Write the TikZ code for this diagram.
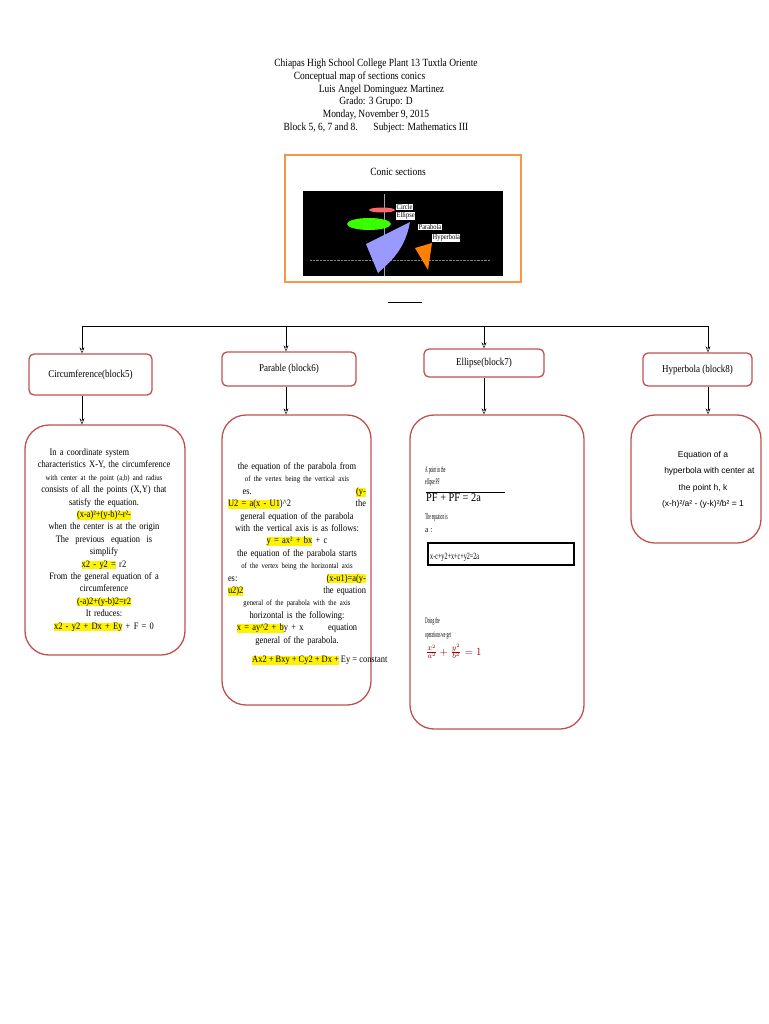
\documentclass[tikz,border=0pt]{standalone}
\usepackage{fontspec}
\setmainfont{Liberation Serif}[FakeStretch=0.86]
\newfontfamily\arialf{Liberation Sans}
\usepackage{tikz}
\usetikzlibrary{arrows.meta}
\newcommand{\hlt}[1]{{\setlength{\fboxsep}{0pt}\colorbox{yellow}{#1}}}
\newcommand{\tinyline}{\fontsize{7.8}{12.4}\selectfont}
\definecolor{boxred}{RGB}{192,80,77}
\definecolor{boxorange}{RGB}{247,150,70}
\begin{document}
\begin{tikzpicture}[x=1pt,y=-1pt,
  head/.style={draw=boxred, line width=1.3pt, rounded corners=5pt},
  body/.style={draw=boxred, line width=1.3pt, rounded corners=24pt},
  txt/.style={align=center, font=\fontsize{9.8}{12.4}\selectfont, inner sep=0pt},
  arr/.style={-{Stealth[open, length=6pt, width=5pt]}}]
\useasboundingbox (0,0) rectangle (768,1024);
% title
\node (title) [txt, font=\fontsize{11}{12.7}\selectfont] at (376,96)
  {Chiapas High School College Plant 13 Tuxtla Oriente\\
   \hspace*{-3em}Conceptual map of sections conics\\
   \hspace*{1em}Luis Angel Dominguez Martinez\\
   Grado: 3 Grupo: D\\
   Monday, November 9, 2015\\
   Block 5, 6, 7 and 8.\quad\ \ Subject: Mathematics III};
% conic sections box
\draw[boxorange, line width=1.5pt] (285,155) rectangle (521,282);
\node (conic) [txt, font=\fontsize{11}{12}\selectfont] at (398,172) {Conic sections};
\fill[black] (303,191) rectangle (503,276);
\draw[gray, densely dotted] (310,260) -- (490,260);
\draw[gray!70, thin] (384,194) -- (384,276);
\fill[red!60] (382,210) ellipse (13 and 2.5);
\fill[green!70!lime] (369,224) ellipse (22 and 6);
\fill[blue!40!white] (366,244) -- (410,222) .. controls (405,250) and (390,262) .. (378,273) -- cycle;
\fill[orange] (415,248) -- (432,243) -- (428,270) -- cycle;
\foreach \lab/\px/\py in {Circle/396/207, Ellipse/396/216, Parabola/418/227, Hyperbola/432/238}
  \node [fill=white, inner sep=0.5pt, font=\fontsize{7.5}{7}\selectfont, anchor=west] at (\px,\py) {\lab};
\draw (388,302) -- (422,302);
% distribution bar
\coordinate (b1) at (82,326);
\coordinate (b2) at (286,326);
\coordinate (b3) at (484,326);
\coordinate (b4) at (708,326);
\draw (b1) -- (b4);
% headings
\node (circ) [head, minimum width=123pt, minimum height=41pt, txt, font=\fontsize{10.5}{10}\selectfont] at (90.5,374.5) {Circumference(block5)};
\node (parab) [head, minimum width=134pt, minimum height=34pt, txt, font=\fontsize{10.5}{10}\selectfont] at (289,369) {Parable (block6)};
\node (ellip) [head, minimum width=120pt, minimum height=28pt, txt, font=\fontsize{10.5}{10}\selectfont] at (484,363) {Ellipse(block7)};
\node (hyper) [head, minimum width=109pt, minimum height=33pt, txt, font=\fontsize{10.5}{10}\selectfont] at (697.5,369.5) {Hyperbola (block8)};
\draw[arr] (b1) -- (circ.north -| b1);
\draw[arr] (b2) -- (parab.north -| b2);
\draw[arr] (b3) -- (ellip.north);
\draw[arr] (b4) -- (hyper.north -| b4);
% bodies
\node (circbody) [body, minimum width=160pt, minimum height=230pt] at (105,540) {};
\node (parabbody) [body, minimum width=149pt, minimum height=290pt] at (296.5,560) {};
\node (ellipbody) [body, minimum width=174pt, minimum height=314pt] at (497,572) {};
\node (hyperbody) [body, minimum width=130pt, minimum height=128pt] at (696,479) {};
\draw[arr] (circ.south -| b1) -- (circbody.north -| b1);
\draw[arr] (parab.south -| b2) -- (parabbody.north -| b2);
\draw[arr] (ellip.south) -- (ellipbody.north -| b3);
\draw[arr] (hyper.south -| b4) -- (hyperbody.north -| b4);
% texts
\node (circtext) [txt, text width=148pt] at (104,540)
  {\hspace*{-3em}In a coordinate system\\
   characteristics X-Y, the circumference\\
   {\tinyline with center at the point (a,b) and radius}\\
   consists of all the points (X,Y) that\\
   satisfy the equation.\\
   \hlt{(x-a)²+(y-b)²-r²-}\\
   when the center is at the origin\\
   The\ \ previous\ \ equation\ \ is\\
   simplify\\
   \hlt{x2 - y2 =} r2\\
   From the general equation of a\\
   circumference\\
   \hlt{(-a)2+(y-b)2=r2}\\
   It reduces:\\
   \hlt{x2 - y2 + Dx + Ey} + F = 0};
\node (parabtext) [txt, text width=138pt] at (297,554)
  {the equation of the parabola from\\
   {\tinyline of the vertex being the vertical axis}\\
   \hspace*{1.5em}es.\hfill\hlt{(y-}\hspace*{1em}\\
   \hlt{U2 = a(x - U1}\rlap{)\^{}2}\hfill the\\
   general equation of the parabola\\
   with the vertical axis is as follows:\\
   \hlt{y = ax² + bx} + c\\
   the equation of the parabola starts\\
   {\tinyline of the vertex being the horizontal axis}\\
   es:\hfill\hlt{(x-u1)=a(y-}\\
   \hlt{u2)2}\hfill the equation\\
   {\tinyline general of the parabola with the axis}\\
   horizontal is the following:\\
   \hlt{x = ay\^{}2 + b}y + x\hspace{2.5em}equation\\
   general of the parabola.};
\node (parabgen) [txt, anchor=north west] at (252,656)
  {\hlt{Ax2 + Bxy + Cy2 + Dx +} Ey = constant};
\node (elliptext1) [txt, anchor=north west, align=left, font=\fontsize{8.5}{12}\selectfont] at (425,466)
  {\scalebox{0.5}[1]{A point in the}\\ \scalebox{0.5}[1]{ellipse PF}};
\node (ellipform) [anchor=north west, inner sep=0pt, font=\fontsize{12}{12}\selectfont] at (426,493) {PF + PF = 2a};
\draw (426,492) -- (505,492);
\node (elliptext2) [txt, anchor=north west, align=left, font=\fontsize{8.5}{13}\selectfont] at (425,513)
  {\scalebox{0.5}[1]{The equation is}\\ a :};
\draw[line width=2.5pt] (428,543) rectangle (574,565);
\node (elliproot) [txt, anchor=west, font=\fontsize{9.5}{9}\selectfont] at (430,557) {\scalebox{0.75}[1]{x-c+y2+x+c+y2=2a}};
\node (elliptext3) [txt, anchor=north west, align=left, font=\fontsize{8.5}{14}\selectfont] at (425,617)
  {\scalebox{0.5}[1]{Doing the}\\ \scalebox{0.5}[1]{operations we get}};
\node (ellipstd) [anchor=north west, inner sep=0pt, text=red!60!black, font=\fontsize{11}{11}\selectfont] at (426,644) {$\frac{x^2}{a^2}+\frac{y^2}{b^2}=1$};
\node (hypertext) [txt, font=\arialf\fontsize{8.5}{16.5}\selectfont] at (703,480)
  {Equation of a\\
   \hspace*{1.5em}hyperbola with center at\\
   the point h, k\\
   (x-h)²/a² - (y-k)²/b² = 1};
\end{tikzpicture}
\end{document}
